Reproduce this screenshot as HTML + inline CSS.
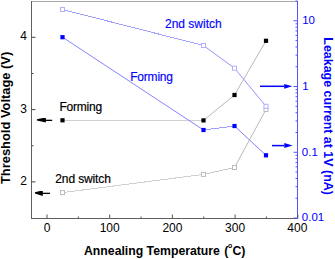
<!DOCTYPE html>
<html><head><meta charset="utf-8"><style>
html,body{margin:0;padding:0;background:#fff;width:335px;height:259px;overflow:hidden}
svg{position:absolute;left:0;top:0}
text{font-family:"Liberation Sans",sans-serif;}
</style></head><body>
<svg width="335" height="259" viewBox="0 0 335 259">
<rect x="0" y="0" width="335" height="259" fill="#fff"/>
<line x1="31.5" y1="1.5" x2="297.5" y2="1.5" stroke="#a8a8a8" stroke-width="1"/>
<line x1="31.5" y1="1.0" x2="31.5" y2="219.0" stroke="#606060" stroke-width="1"/>
<line x1="31.0" y1="218.5" x2="297.5" y2="218.5" stroke="#606060" stroke-width="1"/>
<line x1="297.5" y1="1.0" x2="297.5" y2="219.0" stroke="#5555ff" stroke-width="1"/>
<line x1="47.00" y1="218.5" x2="47.00" y2="214.5" stroke="#555" stroke-width="1"/>
<line x1="78.35" y1="218.5" x2="78.35" y2="216.5" stroke="#555" stroke-width="1"/>
<line x1="109.70" y1="218.5" x2="109.70" y2="214.5" stroke="#555" stroke-width="1"/>
<line x1="141.05" y1="218.5" x2="141.05" y2="216.5" stroke="#555" stroke-width="1"/>
<line x1="172.40" y1="218.5" x2="172.40" y2="214.5" stroke="#555" stroke-width="1"/>
<line x1="203.75" y1="218.5" x2="203.75" y2="216.5" stroke="#555" stroke-width="1"/>
<line x1="235.10" y1="218.5" x2="235.10" y2="214.5" stroke="#555" stroke-width="1"/>
<line x1="266.45" y1="218.5" x2="266.45" y2="216.5" stroke="#555" stroke-width="1"/>
<line x1="297.80" y1="218.5" x2="297.80" y2="214.5" stroke="#555" stroke-width="1"/>
<line x1="31.5" y1="181.90" x2="35.5" y2="181.90" stroke="#444" stroke-width="1"/>
<line x1="31.5" y1="145.75" x2="33.5" y2="145.75" stroke="#444" stroke-width="1"/>
<line x1="31.5" y1="109.60" x2="35.5" y2="109.60" stroke="#444" stroke-width="1"/>
<line x1="31.5" y1="73.45" x2="33.5" y2="73.45" stroke="#444" stroke-width="1"/>
<line x1="31.5" y1="37.30" x2="35.5" y2="37.30" stroke="#444" stroke-width="1"/>
<line x1="297.5" y1="218.04" x2="293.5" y2="218.04" stroke="#5555ff" stroke-width="1"/>
<line x1="297.5" y1="198.25" x2="295.5" y2="198.25" stroke="#5555ff" stroke-width="1"/>
<line x1="297.5" y1="186.67" x2="295.5" y2="186.67" stroke="#5555ff" stroke-width="1"/>
<line x1="297.5" y1="178.46" x2="295.5" y2="178.46" stroke="#5555ff" stroke-width="1"/>
<line x1="297.5" y1="172.09" x2="295.5" y2="172.09" stroke="#5555ff" stroke-width="1"/>
<line x1="297.5" y1="166.88" x2="295.5" y2="166.88" stroke="#5555ff" stroke-width="1"/>
<line x1="297.5" y1="162.48" x2="295.5" y2="162.48" stroke="#5555ff" stroke-width="1"/>
<line x1="297.5" y1="158.66" x2="295.5" y2="158.66" stroke="#5555ff" stroke-width="1"/>
<line x1="297.5" y1="155.30" x2="295.5" y2="155.30" stroke="#5555ff" stroke-width="1"/>
<line x1="297.5" y1="152.29" x2="293.5" y2="152.29" stroke="#5555ff" stroke-width="1"/>
<line x1="297.5" y1="132.50" x2="295.5" y2="132.50" stroke="#5555ff" stroke-width="1"/>
<line x1="297.5" y1="120.92" x2="295.5" y2="120.92" stroke="#5555ff" stroke-width="1"/>
<line x1="297.5" y1="112.71" x2="295.5" y2="112.71" stroke="#5555ff" stroke-width="1"/>
<line x1="297.5" y1="106.34" x2="295.5" y2="106.34" stroke="#5555ff" stroke-width="1"/>
<line x1="297.5" y1="101.13" x2="295.5" y2="101.13" stroke="#5555ff" stroke-width="1"/>
<line x1="297.5" y1="96.73" x2="295.5" y2="96.73" stroke="#5555ff" stroke-width="1"/>
<line x1="297.5" y1="92.91" x2="295.5" y2="92.91" stroke="#5555ff" stroke-width="1"/>
<line x1="297.5" y1="89.55" x2="295.5" y2="89.55" stroke="#5555ff" stroke-width="1"/>
<line x1="297.5" y1="86.54" x2="293.5" y2="86.54" stroke="#5555ff" stroke-width="1"/>
<line x1="297.5" y1="66.75" x2="295.5" y2="66.75" stroke="#5555ff" stroke-width="1"/>
<line x1="297.5" y1="55.17" x2="295.5" y2="55.17" stroke="#5555ff" stroke-width="1"/>
<line x1="297.5" y1="46.96" x2="295.5" y2="46.96" stroke="#5555ff" stroke-width="1"/>
<line x1="297.5" y1="40.59" x2="295.5" y2="40.59" stroke="#5555ff" stroke-width="1"/>
<line x1="297.5" y1="35.38" x2="295.5" y2="35.38" stroke="#5555ff" stroke-width="1"/>
<line x1="297.5" y1="30.98" x2="295.5" y2="30.98" stroke="#5555ff" stroke-width="1"/>
<line x1="297.5" y1="27.16" x2="295.5" y2="27.16" stroke="#5555ff" stroke-width="1"/>
<line x1="297.5" y1="23.80" x2="295.5" y2="23.80" stroke="#5555ff" stroke-width="1"/>
<line x1="297.5" y1="20.79" x2="293.5" y2="20.79" stroke="#5555ff" stroke-width="1"/>
<line x1="297.5" y1="1.00" x2="295.5" y2="1.00" stroke="#5555ff" stroke-width="1"/>
<line x1="62.50" y1="120.50" x2="203.50" y2="120.50" stroke="#d0d0d0" stroke-width="1" shape-rendering="crispEdges"/>
<polyline points="203.50,120.40 234.50,95.00 266.00,40.80" fill="none" stroke="#b8b8b8" stroke-width="1"/>
<line x1="62.50" y1="192.60" x2="203.50" y2="174.40" stroke="#d0d0d0" stroke-width="1" shape-rendering="crispEdges"/>
<line x1="203.50" y1="174.40" x2="234.50" y2="167.50" stroke="#c8c8c8" stroke-width="1" shape-rendering="crispEdges"/>
<line x1="234.50" y1="167.50" x2="266.00" y2="109.50" stroke="#b8b8b8" stroke-width="1"/>
<line x1="62.50" y1="37.20" x2="203.50" y2="130.00" stroke="#8484ff" stroke-width="1"/>
<line x1="203.50" y1="130.00" x2="234.50" y2="126.00" stroke="#a0a0ff" stroke-width="1" shape-rendering="crispEdges"/>
<line x1="234.50" y1="126.00" x2="266.00" y2="155.30" stroke="#8484ff" stroke-width="1"/>
<line x1="62.50" y1="9.50" x2="203.50" y2="45.50" stroke="#a0a0ff" stroke-width="1" shape-rendering="crispEdges"/>
<line x1="203.50" y1="45.50" x2="234.50" y2="68.20" stroke="#9494ff" stroke-width="1"/>
<line x1="234.50" y1="68.20" x2="266.00" y2="106.30" stroke="#9494ff" stroke-width="1"/>
<rect x="60.50" y="190.60" width="4" height="4" fill="#fff" stroke="#bcbcbc" stroke-width="1"/>
<rect x="201.50" y="172.40" width="4" height="4" fill="#fff" stroke="#bcbcbc" stroke-width="1"/>
<rect x="232.50" y="165.50" width="4" height="4" fill="#fff" stroke="#bcbcbc" stroke-width="1"/>
<rect x="264.00" y="107.50" width="4" height="4" fill="#fff" stroke="#bcbcbc" stroke-width="1"/>
<rect x="60.40" y="118.20" width="4.2" height="4.2" fill="#000"/>
<rect x="201.40" y="118.30" width="4.2" height="4.2" fill="#000"/>
<rect x="232.40" y="92.90" width="4.2" height="4.2" fill="#000"/>
<rect x="263.90" y="38.70" width="4.2" height="4.2" fill="#000"/>
<rect x="60.50" y="7.50" width="4" height="4" fill="#fff" stroke="#b0b0ff" stroke-width="1"/>
<rect x="201.50" y="43.50" width="4" height="4" fill="#fff" stroke="#b0b0ff" stroke-width="1"/>
<rect x="232.50" y="66.20" width="4" height="4" fill="#fff" stroke="#b0b0ff" stroke-width="1"/>
<rect x="264.00" y="104.30" width="4" height="4" fill="#fff" stroke="#b0b0ff" stroke-width="1"/>
<rect x="60.40" y="35.10" width="4.2" height="4.2" fill="#0000ff"/>
<rect x="201.40" y="127.90" width="4.2" height="4.2" fill="#0000ff"/>
<rect x="232.40" y="123.90" width="4.2" height="4.2" fill="#0000ff"/>
<rect x="263.90" y="153.20" width="4.2" height="4.2" fill="#0000ff"/>
<line x1="45" y1="120.35" x2="52.2" y2="120.35" stroke="#000" stroke-width="1.3"/>
<path d="M36.9,119.3 L43,118.1 L45.9,117.9 L45.9,122.6 L36.9,120.5 Z" fill="#000"/>
<line x1="42" y1="193.35" x2="50" y2="193.35" stroke="#000" stroke-width="1.3"/>
<path d="M34.9,192.2 L40,191.1 L42.8,190.9 L42.8,196 L34.9,193.6 Z" fill="#000"/>
<line x1="260" y1="86.3" x2="284.2" y2="86.3" stroke="#0000ff" stroke-width="1.5"/>
<path d="M292.3,86.3 L284.2,83.89999999999999 L284.2,88.7 Z" fill="#0000ff"/>
<line x1="272" y1="145.6" x2="284.3" y2="145.6" stroke="#0000ff" stroke-width="1.5"/>
<path d="M292.6,145.6 L284.3,143.1 L284.3,148.1 Z" fill="#0000ff"/>
<g font-size="12" fill="#000">
<text x="27" y="40.2" text-anchor="end">4</text>
<text x="27" y="112.8" text-anchor="end">3</text>
<text x="27" y="185.2" text-anchor="end">2</text>
<text x="47" y="231.6" text-anchor="middle">0</text>
<text x="109.7" y="231.6" text-anchor="middle">100</text>
<text x="172.4" y="231.6" text-anchor="middle">200</text>
<text x="235.1" y="231.6" text-anchor="middle">300</text>
<text x="297.3" y="231.6" text-anchor="middle">400</text>
</g>
<g font-size="12" fill="#000" stroke="#000" stroke-width="0.2">
<text x="59.4" y="110.8" letter-spacing="-0.2">Forming</text>
<text x="55.3" y="183.3" letter-spacing="-0.13">2nd switch</text>
</g>
<g font-size="11.5" fill="#0000ff">
<text x="302.2" y="23.9">10</text>
<text x="302.2" y="89.8">1</text>
<text x="301.8" y="155.8">0.1</text>
<text x="301.8" y="221.4">0.01</text>
</g>
<g fill="#0000ff" stroke="#0000ff" stroke-width="0.15">
<text x="165" y="28.3" font-size="12">2nd switch</text>
<text x="130.2" y="80.9" font-size="12" letter-spacing="-0.2">Forming</text>
</g>
<g font-size="12.25" font-weight="bold" fill="#000">
<text x="84" y="255.4">Annealing Temperature</text>
<text x="224.2" y="255.4">(</text>
<text x="232.5" y="255.4">C)</text>
</g>
<text x="228" y="247.9" font-size="7" font-weight="bold" fill="#000">o</text>
<text transform="translate(10.3,184) rotate(-90)" font-size="12.9" font-weight="bold" fill="#000">Threshold Voltage (V)</text>
<text transform="translate(323.6,37.3) rotate(90)" font-size="12.45" font-weight="bold" fill="#0000ff">Leakage current at 1V (nA)</text>
</svg>
</body></html>
